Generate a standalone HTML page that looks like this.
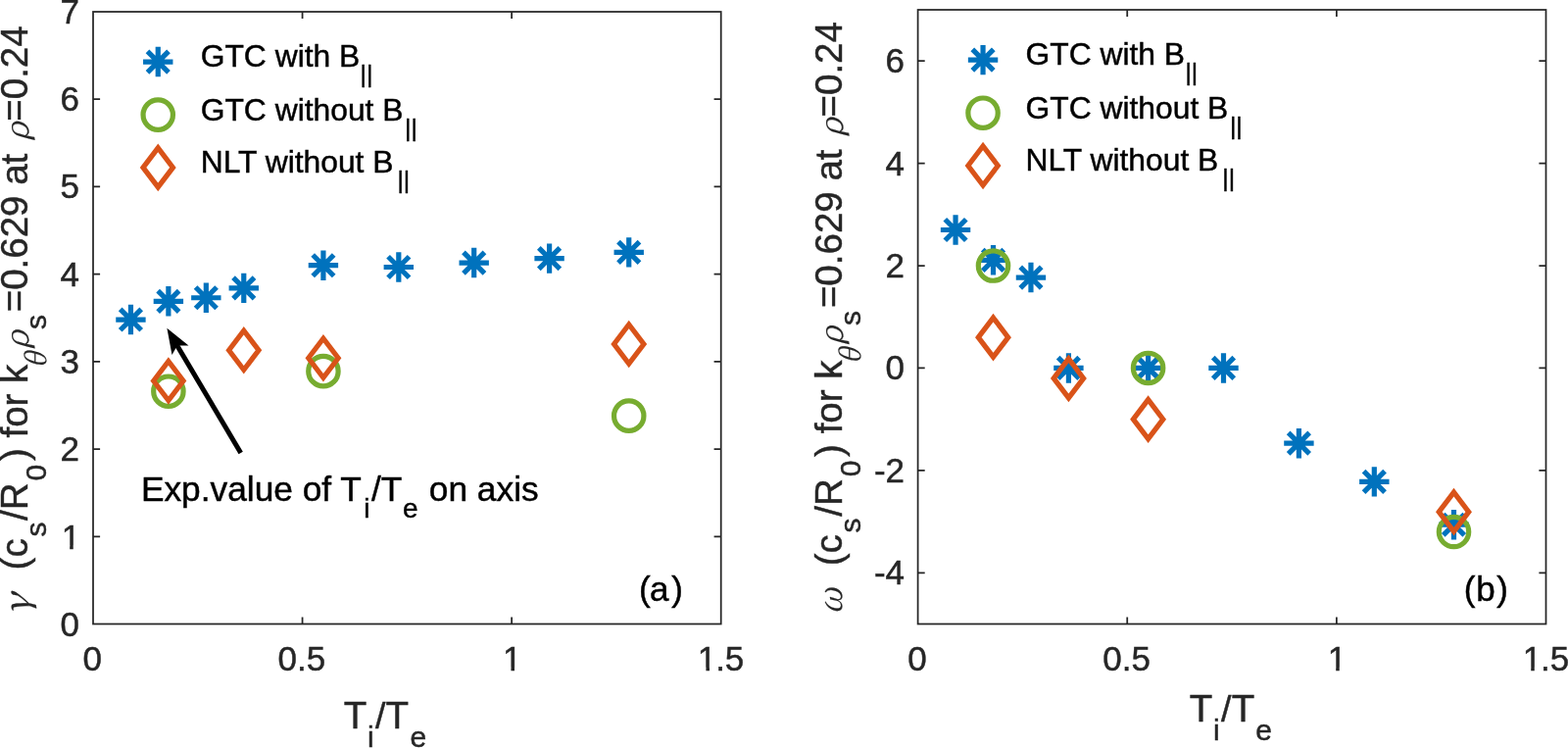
<!DOCTYPE html><html><head><meta charset="utf-8"><style>html,body{margin:0;padding:0;background:#fff;overflow:hidden}svg{display:block}</style></head><body><svg width="1600" height="763" viewBox="0 0 1600 763">
<style>text{font-family:'Liberation Sans', Arial, Helvetica, sans-serif} .g{font-family:'Noto Serif CJK SC', 'Liberation Serif', serif;font-style:italic;stroke-width:0.2px}</style>
<rect width="1600" height="763" fill="#fff"/>
<rect x="95.0" y="12.0" width="640.70" height="624.50" fill="none" stroke="#262626" stroke-width="1.75"/>
<path d="M308.57 636.5V629.4M308.57 12.0V19.1M522.13 636.5V629.4M522.13 12.0V19.1M95.0 547.29H102.1M735.7 547.29H728.6M95.0 458.07H102.1M735.7 458.07H728.6M95.0 368.86H102.1M735.7 368.86H728.6M95.0 279.64H102.1M735.7 279.64H728.6M95.0 190.43H102.1M735.7 190.43H728.6M95.0 101.21H102.1M735.7 101.21H728.6" stroke="#262626" stroke-width="1.75" fill="none"/>
<text transform="translate(84.57,684.00) scale(1,1.015)" font-size="35" fill="#262626" stroke="#262626" stroke-width="0.45">0</text>
<text transform="translate(283.54,684.00) scale(1,1.015)" font-size="35" fill="#262626" stroke="#262626" stroke-width="0.45">0.5</text>
<text transform="translate(511.70,684.00) scale(1,1.015)" font-size="35" fill="#262626" stroke="#262626" stroke-width="0.45"><tspan dx="1.2">1</tspan></text>
<text transform="translate(710.67,684.00) scale(1,1.015)" font-size="35" fill="#262626" stroke="#262626" stroke-width="0.45"><tspan dx="1.2">1</tspan><tspan dx="-1.2">.5</tspan></text>
<text transform="translate(61.44,648.50) scale(1,1.015)" font-size="35" fill="#262626" stroke="#262626" stroke-width="0.45">0</text>
<text transform="translate(61.44,559.89) scale(1,1.015)" font-size="35" fill="#262626" stroke="#262626" stroke-width="0.45"><tspan dx="1.2">1</tspan></text>
<text transform="translate(61.44,470.07) scale(1,1.015)" font-size="35" fill="#262626" stroke="#262626" stroke-width="0.45">2</text>
<text transform="translate(61.44,380.86) scale(1,1.015)" font-size="35" fill="#262626" stroke="#262626" stroke-width="0.45">3</text>
<text transform="translate(61.44,291.64) scale(1,1.015)" font-size="35" fill="#262626" stroke="#262626" stroke-width="0.45">4</text>
<text transform="translate(61.44,202.43) scale(1,1.015)" font-size="35" fill="#262626" stroke="#262626" stroke-width="0.45">5</text>
<text transform="translate(61.44,113.21) scale(1,1.015)" font-size="35" fill="#262626" stroke="#262626" stroke-width="0.45">6</text>
<text transform="translate(61.44,24.00) scale(1,1.015)" font-size="35" fill="#262626" stroke="#262626" stroke-width="0.45">7</text>
<rect x="936.6" y="10.0" width="640.90" height="626.50" fill="none" stroke="#262626" stroke-width="1.75"/>
<path d="M1150.23 636.5V629.4M1150.23 10.0V17.1M1363.87 636.5V629.4M1363.87 10.0V17.1M936.6 584.29H943.7M1577.5 584.29H1570.4M936.6 479.88H943.7M1577.5 479.88H1570.4M936.6 375.46H943.7M1577.5 375.46H1570.4M936.6 271.04H943.7M1577.5 271.04H1570.4M936.6 166.62H943.7M1577.5 166.62H1570.4M936.6 62.21H943.7M1577.5 62.21H1570.4" stroke="#262626" stroke-width="1.75" fill="none"/>
<text transform="translate(926.17,684.00) scale(1,1.015)" font-size="35" fill="#262626" stroke="#262626" stroke-width="0.45">0</text>
<text transform="translate(1125.21,684.00) scale(1,1.015)" font-size="35" fill="#262626" stroke="#262626" stroke-width="0.45">0.5</text>
<text transform="translate(1353.44,684.00) scale(1,1.015)" font-size="35" fill="#262626" stroke="#262626" stroke-width="0.45"><tspan dx="1.2">1</tspan></text>
<text transform="translate(1552.47,684.00) scale(1,1.015)" font-size="35" fill="#262626" stroke="#262626" stroke-width="0.45"><tspan dx="1.2">1</tspan><tspan dx="-1.2">.5</tspan></text>
<text transform="translate(891.88,596.29) scale(1,1.015)" font-size="35" fill="#262626" stroke="#262626" stroke-width="0.45">-4</text>
<text transform="translate(891.88,491.88) scale(1,1.015)" font-size="35" fill="#262626" stroke="#262626" stroke-width="0.45">-2</text>
<text transform="translate(903.54,387.46) scale(1,1.015)" font-size="35" fill="#262626" stroke="#262626" stroke-width="0.45">0</text>
<text transform="translate(903.54,283.04) scale(1,1.015)" font-size="35" fill="#262626" stroke="#262626" stroke-width="0.45">2</text>
<text transform="translate(903.54,178.62) scale(1,1.015)" font-size="35" fill="#262626" stroke="#262626" stroke-width="0.45">4</text>
<text transform="translate(903.54,74.21) scale(1,1.015)" font-size="35" fill="#262626" stroke="#262626" stroke-width="0.45">6</text>
<path d="M514.20 680.70h7.25v4.6h-7.25zM525.00 680.70h6.8v4.6h-6.8z" fill="#fff"/>
<path d="M713.17 680.70h7.25v4.6h-7.25zM723.98 680.70h6.8v4.6h-6.8z" fill="#fff"/>
<path d="M63.94 556.59h7.25v4.6h-7.25zM74.74 556.59h6.8v4.6h-6.8z" fill="#fff"/>
<path d="M1355.94 680.70h7.25v4.6h-7.25zM1366.74 680.70h6.8v4.6h-6.8z" fill="#fff"/>
<path d="M1554.97 680.70h7.25v4.6h-7.25zM1565.77 680.70h6.8v4.6h-6.8z" fill="#fff"/>
<text transform="translate(350.83,743.30) scale(1,1.0)" font-size="38.5" fill="#262626" stroke="#262626" stroke-width="0.45"><tspan x="0" y="0">T</tspan><tspan x="24.07" y="19.00" font-size="30">i</tspan><tspan x="32.07" y="0" font-size="37.6">/</tspan><tspan x="42.77">T</tspan><tspan x="67.67" y="19.00" font-size="30">e</tspan></text>
<text transform="translate(1213.63,735.90) scale(1,1.0)" font-size="38.5" fill="#262626" stroke="#262626" stroke-width="0.45"><tspan x="0" y="0">T</tspan><tspan x="24.27" y="19.00" font-size="30">i</tspan><tspan x="32.37" y="0" font-size="37.6">/</tspan><tspan x="43.07">T</tspan><tspan x="67.67" y="19.00" font-size="30">e</tspan></text>
<text transform="translate(27.50,0) rotate(-90) scale(1.15,1)" fill="#262626" stroke="#262626" stroke-width="0.2" class="g" font-size="35" x="-545.68" y="2.0">γ</text>
<text transform="translate(27.50,0) rotate(-90) scale(1,1.0)" fill="#262626" stroke="#262626" stroke-width="0.45"><tspan x="-581.41" y="0.00" font-size="38.5">(c</tspan><tspan x="-547.60" y="19.40" font-size="30">s</tspan><tspan x="-531.00" y="0.00" font-size="38.5">/R</tspan><tspan x="-490.50" y="19.40" font-size="30">0</tspan><tspan x="-470.08" y="0.00" font-size="38.5">) for k</tspan><tspan x="-375.16" y="19.40" font-size="28" class="g">θ</tspan><tspan x="-356.56" y="1.50" font-size="32" class="g">ρ</tspan><tspan x="-336.10" y="19.40" font-size="30">s</tspan><tspan x="-318.32" y="0.00" font-size="38.5">=0.629 at</tspan><tspan x="-143.96" y="1.50" font-size="32" class="g">ρ</tspan><tspan x="-123.72" y="0.00" font-size="38.5">=0.24</tspan></text>
<text transform="translate(858.80,0) rotate(-90) scale(1.0,1)" fill="#262626" stroke="#262626" stroke-width="0.2" class="g" font-size="33" x="-626.40" y="0">ω</text>
<text transform="translate(858.80,0) rotate(-90) scale(1,1.0)" fill="#262626" stroke="#262626" stroke-width="0.45"><tspan x="-577.21" y="0.00" font-size="38.5">(c</tspan><tspan x="-543.40" y="19.40" font-size="30">s</tspan><tspan x="-526.80" y="0.00" font-size="38.5">/R</tspan><tspan x="-486.30" y="19.40" font-size="30">0</tspan><tspan x="-465.88" y="0.00" font-size="38.5">) for k</tspan><tspan x="-370.96" y="19.40" font-size="28" class="g">θ</tspan><tspan x="-352.36" y="1.50" font-size="32" class="g">ρ</tspan><tspan x="-331.90" y="19.40" font-size="30">s</tspan><tspan x="-314.12" y="0.00" font-size="38.5">=0.629 at</tspan><tspan x="-139.76" y="1.50" font-size="32" class="g">ρ</tspan><tspan x="-119.52" y="0.00" font-size="38.5">=0.24</tspan></text>
<path d="M146.05 63.05H176.45M161.25 47.85V78.25M150.50 52.30L172.00 73.80M150.50 73.80L172.00 52.30" stroke="#0072BD" stroke-width="5.2" fill="none"/>
<text transform="translate(204.71,67.70) scale(1,1.0)" font-size="31.8" fill="#000" stroke="#000" stroke-width="0.45">GTC with B<tspan x="162.88" y="15.8" font-size="24.6">||</tspan></text>
<circle cx="161.25" cy="117.10" r="15.2" stroke="#77AC30" stroke-width="5.2" fill="none"/>
<text transform="translate(204.71,122.90) scale(1,1.0)" font-size="31.8" fill="#000" stroke="#000" stroke-width="0.45">GTC without B<tspan x="208.38" y="15.8" font-size="24.6">||</tspan></text>
<path d="M146.05 170.90L161.25 150.90L176.45 170.90L161.25 190.90Z" stroke="#D95319" stroke-width="5.2" fill="none" stroke-miterlimit="10"/>
<text transform="translate(204.71,176.10) scale(1,1.0)" font-size="31.8" fill="#000" stroke="#000" stroke-width="0.45">NLT without B<tspan x="200.78" y="15.8" font-size="24.6">||</tspan></text>
<path d="M987.85 61.15H1018.25M1003.05 45.95V76.35M992.30 50.40L1013.80 71.90M992.30 71.90L1013.80 50.40" stroke="#0072BD" stroke-width="5.2" fill="none"/>
<text transform="translate(1046.51,65.80) scale(1,1.0)" font-size="31.8" fill="#000" stroke="#000" stroke-width="0.45">GTC with B<tspan x="162.88" y="15.8" font-size="24.6">||</tspan></text>
<circle cx="1003.05" cy="115.20" r="15.2" stroke="#77AC30" stroke-width="5.2" fill="none"/>
<text transform="translate(1046.51,121.00) scale(1,1.0)" font-size="31.8" fill="#000" stroke="#000" stroke-width="0.45">GTC without B<tspan x="208.38" y="15.8" font-size="24.6">||</tspan></text>
<path d="M987.85 169.00L1003.05 149.00L1018.25 169.00L1003.05 189.00Z" stroke="#D95319" stroke-width="5.2" fill="none" stroke-miterlimit="10"/>
<text transform="translate(1046.51,174.20) scale(1,1.0)" font-size="31.8" fill="#000" stroke="#000" stroke-width="0.45">NLT without B<tspan x="200.78" y="15.8" font-size="24.6">||</tspan></text>
<path d="M118.24 326.03H148.64M133.44 310.83V341.23M122.69 315.29L144.19 336.78M122.69 336.78L144.19 315.29" stroke="#0072BD" stroke-width="5.2" fill="none"/>
<path d="M156.68 307.30H187.08M171.88 292.10V322.50M161.14 296.55L182.63 318.05M161.14 318.05L182.63 296.55" stroke="#0072BD" stroke-width="5.2" fill="none"/>
<path d="M195.13 303.73H225.53M210.33 288.53V318.93M199.58 292.98L221.07 314.48M199.58 314.48L221.07 292.98" stroke="#0072BD" stroke-width="5.2" fill="none"/>
<path d="M233.57 293.92H263.97M248.77 278.72V309.12M238.02 283.17L259.52 304.67M238.02 304.67L259.52 283.17" stroke="#0072BD" stroke-width="5.2" fill="none"/>
<path d="M314.72 270.72H345.12M329.92 255.52V285.92M319.18 259.97L340.67 281.47M319.18 281.47L340.67 259.97" stroke="#0072BD" stroke-width="5.2" fill="none"/>
<path d="M391.61 272.51H422.01M406.81 257.31V287.71M396.06 261.76L417.56 283.25M396.06 283.25L417.56 261.76" stroke="#0072BD" stroke-width="5.2" fill="none"/>
<path d="M468.49 268.05H498.89M483.69 252.85V283.25M472.94 257.30L494.44 278.79M472.94 278.79L494.44 257.30" stroke="#0072BD" stroke-width="5.2" fill="none"/>
<path d="M545.38 263.58H575.78M560.58 248.38V278.78M549.83 252.84L571.32 274.33M549.83 274.33L571.32 252.84" stroke="#0072BD" stroke-width="5.2" fill="none"/>
<path d="M626.53 257.34H656.93M641.73 242.14V272.54M630.98 246.59L652.48 268.09M630.98 268.09L652.48 246.59" stroke="#0072BD" stroke-width="5.2" fill="none"/>
<circle cx="171.88" cy="399.19" r="15.2" stroke="#77AC30" stroke-width="5.2" fill="none"/>
<circle cx="329.92" cy="378.67" r="15.2" stroke="#77AC30" stroke-width="5.2" fill="none"/>
<circle cx="641.73" cy="424.17" r="15.2" stroke="#77AC30" stroke-width="5.2" fill="none"/>
<path d="M156.68 388.48L171.88 368.48L187.08 388.48L171.88 408.48Z" stroke="#D95319" stroke-width="5.2" fill="none" stroke-miterlimit="10"/>
<path d="M233.57 357.26L248.77 337.26L263.97 357.26L248.77 377.26Z" stroke="#D95319" stroke-width="5.2" fill="none" stroke-miterlimit="10"/>
<path d="M314.72 365.29L329.92 345.29L345.12 365.29L329.92 385.29Z" stroke="#D95319" stroke-width="5.2" fill="none" stroke-miterlimit="10"/>
<path d="M626.53 351.01L641.73 331.01L656.93 351.01L641.73 371.01Z" stroke="#D95319" stroke-width="5.2" fill="none" stroke-miterlimit="10"/>
<path d="M959.85 234.50H990.25M975.05 219.30V249.70M964.31 223.75L985.80 245.24M964.31 245.24L985.80 223.75" stroke="#0072BD" stroke-width="5.2" fill="none"/>
<path d="M998.31 265.30H1028.71M1013.51 250.10V280.50M1002.76 254.55L1024.26 276.05M1002.76 276.05L1024.26 254.55" stroke="#0072BD" stroke-width="5.2" fill="none"/>
<path d="M1036.76 283.05H1067.16M1051.96 267.85V298.25M1041.21 272.30L1062.71 293.80M1041.21 293.80L1062.71 272.30" stroke="#0072BD" stroke-width="5.2" fill="none"/>
<path d="M1075.22 375.46H1105.62M1090.42 360.26V390.66M1079.67 364.71L1101.16 386.21M1079.67 386.21L1101.16 364.71" stroke="#0072BD" stroke-width="5.2" fill="none"/>
<path d="M1156.40 375.46H1186.80M1171.60 360.26V390.66M1160.85 364.71L1182.34 386.21M1160.85 386.21L1182.34 364.71" stroke="#0072BD" stroke-width="5.2" fill="none"/>
<path d="M1233.30 375.46H1263.70M1248.50 360.26V390.66M1237.76 364.71L1259.25 386.21M1237.76 386.21L1259.25 364.71" stroke="#0072BD" stroke-width="5.2" fill="none"/>
<path d="M1310.21 452.20H1340.61M1325.41 437.00V467.40M1314.66 441.46L1336.16 462.95M1314.66 462.95L1336.16 441.46" stroke="#0072BD" stroke-width="5.2" fill="none"/>
<path d="M1387.12 491.36H1417.52M1402.32 476.16V506.56M1391.57 480.61L1413.07 502.11M1391.57 502.11L1413.07 480.61" stroke="#0072BD" stroke-width="5.2" fill="none"/>
<path d="M1468.30 535.22H1498.70M1483.50 520.02V550.42M1472.75 524.47L1494.25 545.96M1472.75 545.96L1494.25 524.47" stroke="#0072BD" stroke-width="5.2" fill="none"/>
<circle cx="1013.51" cy="271.04" r="15.2" stroke="#77AC30" stroke-width="5.2" fill="none"/>
<circle cx="1171.60" cy="375.46" r="15.2" stroke="#77AC30" stroke-width="5.2" fill="none"/>
<circle cx="1483.50" cy="542.52" r="15.2" stroke="#77AC30" stroke-width="5.2" fill="none"/>
<path d="M998.31 344.13L1013.51 324.13L1028.71 344.13L1013.51 364.13Z" stroke="#D95319" stroke-width="5.2" fill="none" stroke-miterlimit="10"/>
<path d="M1075.22 385.90L1090.42 365.90L1105.62 385.90L1090.42 405.90Z" stroke="#D95319" stroke-width="5.2" fill="none" stroke-miterlimit="10"/>
<path d="M1156.40 427.67L1171.60 407.67L1186.80 427.67L1171.60 447.67Z" stroke="#D95319" stroke-width="5.2" fill="none" stroke-miterlimit="10"/>
<path d="M1468.30 522.16L1483.50 502.16L1498.70 522.16L1483.50 542.16Z" stroke="#D95319" stroke-width="5.2" fill="none" stroke-miterlimit="10"/>
<line x1="245.7" y1="462.1" x2="179" y2="349.5" stroke="#000" stroke-width="5.0"/>
<path d="M170.4 334.8L192.5 352.5L180.9 352.6L175.5 362Z" fill="#000"/>
<text transform="translate(143.88,511.00) scale(1,1.0)" font-size="35.3" fill="#000" stroke="#000" stroke-width="0.45">Exp.value of T<tspan x="227.26" y="16.7" font-size="28">i</tspan><tspan x="235.02" y="0">/T</tspan><tspan x="267.20" y="16.7" font-size="28">e</tspan><tspan x="293.91" y="0">on axis</tspan></text>
<text transform="translate(651.90,613.10) scale(1,1.0)" font-size="35" fill="#000" stroke="#000" stroke-width="0.45">(<tspan x="11.00">a</tspan><tspan x="33.35">)</tspan></text>
<text transform="translate(1493.85,613.10) scale(1,1.0)" font-size="35" fill="#000" stroke="#000" stroke-width="0.45">(<tspan x="12.40">b</tspan><tspan x="33.35">)</tspan></text>
</svg></body></html>
